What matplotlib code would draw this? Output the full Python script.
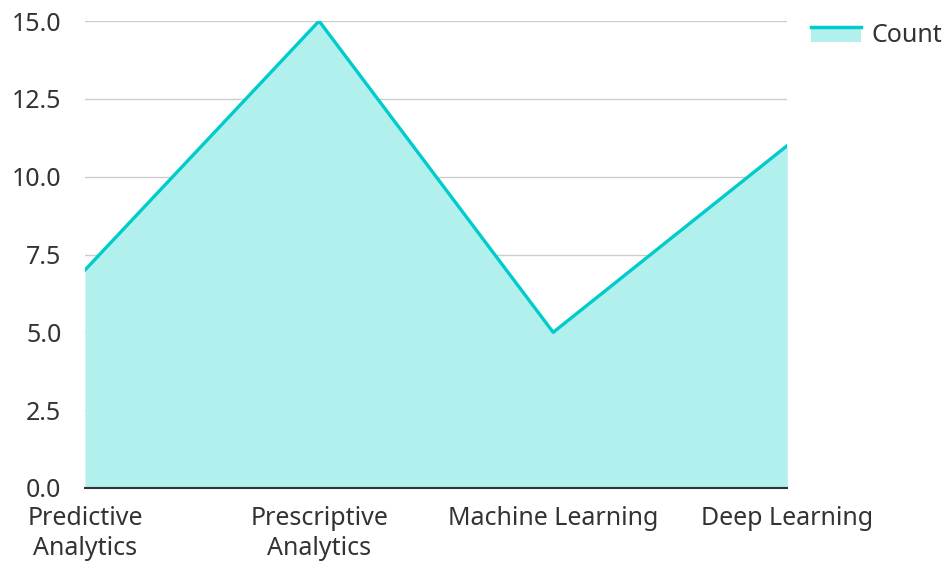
import matplotlib.pyplot as plt
from matplotlib.legend_handler import HandlerBase
from matplotlib.patches import Rectangle
from matplotlib.lines import Line2D

plt.rcParams['font.family'] = ['Noto Sans', 'DejaVu Sans']

categories = ['Predictive\nAnalytics', 'Prescriptive\nAnalytics', 'Machine Learning', 'Deep Learning']
counts = [7, 15, 5, 11]
yticks = [0.0, 2.5, 5.0, 7.5, 10.0, 12.5, 15.0]

line_col = '#00cccc'
fill_col = '#b2f0ee'
txt_col = '#333333'


class AreaHandler(HandlerBase):
    # legend key: filled box with the line on top
    def create_artists(self, legend, orig, xd, yd, w, h, fontsize, trans):
        top = -yd + h * 0.9
        r = Rectangle((-xd, -yd), w, h * 0.9, facecolor=fill_col, edgecolor='none', transform=trans)
        l = Line2D([-xd, -xd + w], [top, top], color=line_col, lw=2.5, transform=trans)
        return [r, l]


fig = plt.figure(figsize=(9.44, 5.62), dpi=100)
ax = fig.add_axes([0.090, 0.1317, 0.744, 0.8309])

x = list(range(len(categories)))
ax.fill_between(x, counts, 0, color=fill_col, lw=0, zorder=2)
ax.plot(x, counts, color=line_col, lw=2.4, zorder=3)

ax.set_xlim(0, len(categories) - 1)
ax.set_ylim(0, 15)
ax.set_yticks(yticks)
ax.set_yticklabels(['%.1f' % v for v in yticks])
ax.set_xticks(x)
ax.set_xticklabels(categories, linespacing=1.25)
ax.grid(axis='y', color='#cccccc', lw=1, zorder=1)
ax.set_axisbelow(True)
for s in ['top', 'right', 'left']:
    ax.spines[s].set_visible(False)
ax.spines['bottom'].set_color(txt_col)
ax.spines['bottom'].set_linewidth(1.5)
ax.spines['bottom'].set_zorder(4)
ax.tick_params(axis='both', length=0, labelsize=18, colors=txt_col)
ax.tick_params(axis='y', pad=17)
ax.tick_params(axis='x', pad=13)

key = object()
leg = fig.legend([key], ['Count'], handler_map={key: AreaHandler()},
                 loc='upper left', bbox_to_anchor=(0.838, 0.994), frameon=False,
                 borderpad=0.3, fontsize=18, handlelength=2.0, handletextpad=0.4,
                 labelcolor=txt_col)

fig.savefig('out.png', dpi=100)
